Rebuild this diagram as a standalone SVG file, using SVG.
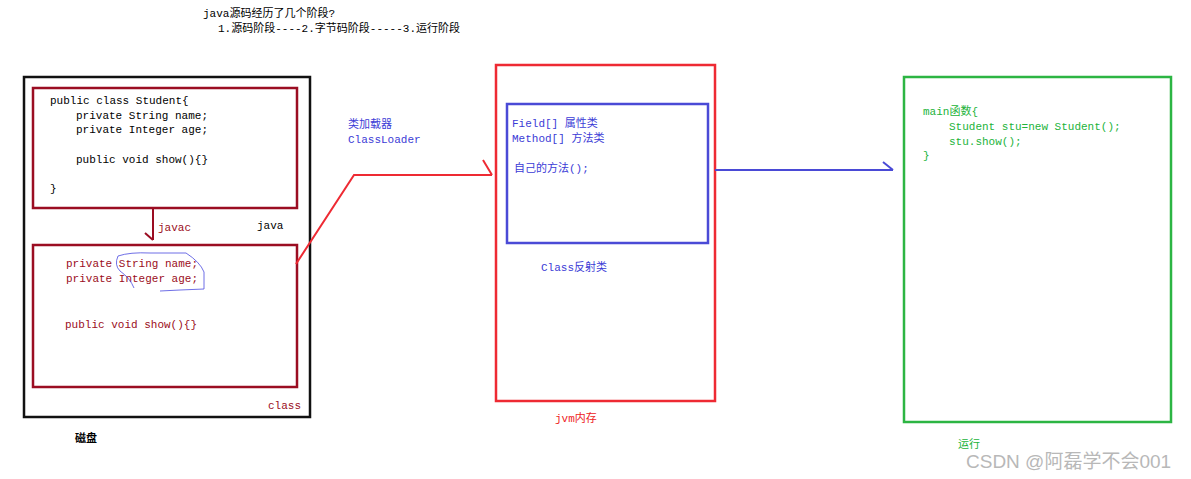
<svg xmlns="http://www.w3.org/2000/svg" width="1191" height="479" viewBox="0 0 1191 479">
<style>
text{font-family:"Liberation Mono","Noto Sans CJK SC",monospace;font-size:11px}
.k{fill:#000}.dr{fill:#9b0d22}.b{fill:#3b3bd6}.g{fill:#22b33a}.r{fill:#ee1c24}
.box{fill:none;stroke-width:2.5}
</style>
<rect width="1191" height="479" fill="#fff"/>
<g id="title"><text x="203" y="17" class="k">java源码经历了几个阶段?</text><text x="218" y="32" class="k">1.源码阶段----2.字节码阶段-----3.运行阶段</text></g>
<g id="disk"><rect x="24" y="77" width="286" height="340" class="box" stroke="#111"/><text x="75" y="442" class="k" font-weight="bold">磁盘</text><text x="257" y="229" class="k">java</text></g>
<g id="java-src"><rect x="33" y="88" width="264" height="120" class="box" stroke="#9b0d22"/>
<text x="50" y="104" class="k">public class Student{</text>
<text x="76" y="119" class="k">private String name;</text>
<text x="76" y="133" class="k">private Integer age;</text>
<text x="76" y="163" class="k">public void show(){}</text>
<text x="50" y="192" class="k">}</text></g>
<g id="class-file"><rect x="33" y="245" width="264" height="142" class="box" stroke="#9b0d22"/>
<text x="66" y="267" class="dr">private String name;</text>
<text x="66" y="282" class="dr">private Integer age;</text>
<text x="65" y="328" class="dr">public void show(){}</text>
<text x="268" y="409" class="dr">class</text>
<path d="M118 256 Q130 252 150 253 L186 253 Q200 262 204 272 L204 289 L180 290 L160 291 M118 256 Q114 265 120 271 Q130 278 134 288" fill="none" stroke="#4a4ae0" stroke-width="0.8"/></g>
<g id="jvm"><rect x="496" y="65" width="219" height="336" class="box" stroke="#ee2a33"/><text x="555" y="422" class="r">jvm内存</text>
<text x="541" y="271" class="b">Class反射类</text></g>
<g id="class-obj"><rect x="507" y="104" width="201" height="139" class="box" stroke="#4a4ad6"/>
<text x="512" y="127" class="b">Field[] 属性类</text>
<text x="512" y="142" class="b">Method[] 方法类</text>
<text x="514" y="172" class="b">自己的方法();</text></g>
<g id="run"><rect x="904" y="77" width="267" height="345" class="box" stroke="#2cb543"/>
<text x="923" y="115" class="g">main函数{</text>
<text x="949" y="130" class="g">Student stu=new Student();</text>
<text x="949" y="145" class="g">stu.show();</text>
<text x="923" y="159" class="g">}</text>
<text x="958" y="448" class="g">运行</text></g>
<g id="connectors" fill="none" stroke-width="2">
<path d="M153 208 V240 M145 233 L153 240" stroke="#9b0d22"/>
<text x="158" y="231" class="dr" stroke="none">javac</text>
<path d="M296 264 L354 175 H492 M483 160 L492 175" stroke="#ee2a33"/>
<text x="348" y="128" class="b" stroke="none">类加载器</text>
<text x="348" y="143" class="b" stroke="none">ClassLoader</text>
<path d="M715 170 H893 M883 162 L893 170" stroke="#4a4ad6"/>
</g>
<text x="966" y="468" style="font-family:'Liberation Sans','Noto Sans CJK SC',sans-serif;font-size:19px;fill:#b8b8b8">CSDN @阿磊学不会001</text>
</svg>
